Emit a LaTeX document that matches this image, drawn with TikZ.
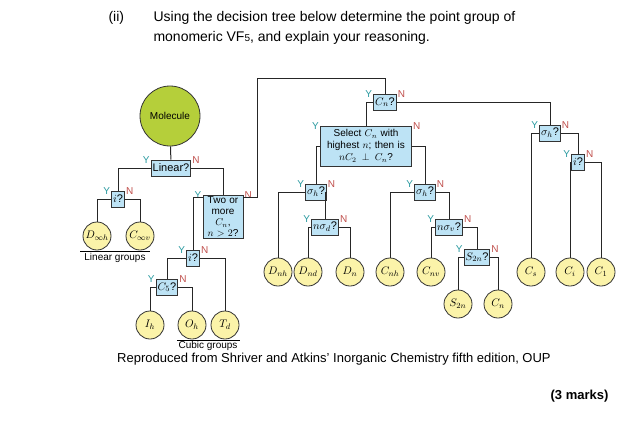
\documentclass[tikz,border=0pt]{standalone}
\usepackage{fontspec}
\setmainfont{Liberation Sans}
\usetikzlibrary{positioning}
\definecolor{qblue}{HTML}{BDE3F5}
\definecolor{leaf}{HTML}{FBF3A9}
\definecolor{molgreen}{HTML}{B5CF3A}
\definecolor{ycol}{HTML}{2A9AA0}
\definecolor{ncol}{HTML}{C0504D}
\tikzset{
  q/.style={draw=black!80,fill=qblue,line width=0.8pt,inner sep=1.5pt,minimum height=16pt,font=\fontsize{11}{12}\selectfont,
    label={[text=ycol,anchor=south east,inner sep=1pt,yshift=-5pt,font=\fontsize{10}{11}\selectfont]north west:Y},
    label={[text=ncol,anchor=south west,inner sep=1pt,yshift=-5pt,font=\fontsize{10}{11}\selectfont]north east:N}},
  pg/.style={circle,draw=black!80,fill=leaf,line width=0.8pt,minimum size=28pt,inner sep=0pt,font=\fontsize{11}{12}\selectfont},
  wire/.style={line width=1pt,black!85},
  grp/.style={font=\fontsize{10}{11}\selectfont}
}
\begin{document}
\begin{tikzpicture}[x=1pt,y=-1pt]
  \useasboundingbox (0,0) rectangle (642,442);
  %Question
  \node[anchor=west,font=\fontsize{14}{16}\selectfont] at (105,18) {(ii)};
  \node[anchor=west,font=\fontsize{14}{16}\selectfont] at (150,18) {Using the decision tree below determine the point group of};
  \node[anchor=west,font=\fontsize{14}{16}\selectfont] at (150,38) {monomeric VF{\fontsize{10}{12}\selectfont 5}, and explain your reasoning.};
  %Root
  \node[circle,draw=black!80,fill=molgreen,line width=0.8pt,minimum size=60pt,font=\fontsize{10}{11}\selectfont] (mol) at (170,116) {Molecule};
  \node[q] (lin) at (171,168) {Linear?};
  \node[q] (ilin) at (118,199) {$i$?};
  \node[pg] (dinfh) at (97,236) {$D_{\infty h}$};
  \node[pg] (cinfv) at (140,236) {$C_{\infty v}$};
  \node[q,align=center,text width=37pt,inner sep=1.5pt,font=\fontsize{10}{11}\selectfont] (two) at (223,217) {Two or\\more\\$C_n$,\\$n>2$?};
  \node[q] (icub) at (193,258) {$i$?};
  \node[q] (cfive) at (167,287) {$C_5$?};
  \node[pg] (ih) at (150,325) {$I_h$};
  \node[pg] (oh) at (192,325) {$O_h$};
  \node[pg] (td) at (225,325) {$T_d$};
  %Axial branch
  \node[q] (cn) at (385,102) {$C_n$?};
  \node[q,align=center,text width=88pt,minimum height=40pt,font=\fontsize{10}{12}\selectfont] (sel) at (366,146) {Select $C_n$ with\\highest $n$; then is\\$nC_2\perp C_n$?};
  \node[q] (sha) at (316,192) {$\sigma_h$?};
  \node[q] (nsd) at (325,227) {$n\sigma_d$?};
  \node[pg] (dnh) at (278,272) {$D_{nh}$};
  \node[pg] (dnd) at (308,272) {$D_{nd}$};
  \node[pg] (dn) at (350,272) {$D_n$};
  \node[q] (shb) at (425,192) {$\sigma_h$?};
  \node[q] (nsv) at (449,227) {$n\sigma_v$?};
  \node[q] (stwo) at (477,257) {$S_{2n}$?};
  \node[pg] (cnh) at (390,272) {$C_{nh}$};
  \node[pg] (cnv) at (431,272) {$C_{nv}$};
  \node[pg] (s2n) at (458,304) {$S_{2n}$};
  \node[pg] (cnn) at (498,304) {$C_n$};
  %Low symmetry
  \node[q] (shc) at (550,133) {$\sigma_h$?};
  \node[q] (ilow) at (578,162) {$i$?};
  \node[pg] (cs) at (531,272) {$C_s$};
  \node[pg] (ci) at (570,272) {$C_i$};
  \node[pg] (cone) at (601,272) {$C_1$};
  %Wires
  \draw[wire] (mol) -- (lin);
  \draw[wire] (lin.west) -| (ilin.north);
  \draw[wire] (lin.east) -| (two.north);
  \draw[wire] (ilin.west) -| (dinfh.north);
  \draw[wire] (ilin.east) -| (cinfv.north);
  \draw[wire] (two.west |- 0,197) -| (icub.north);
  \draw[wire] (two.east |- 0,197) -- (257,197) |- (cn.north |- 0,78) -- (cn.north);
  \draw[wire] (icub.west) -| (cfive.north);
  \draw[wire] (icub.east) -| (td.north);
  \draw[wire] (cfive.west) -| (ih.north);
  \draw[wire] (cfive.east) -| (oh.north);
  \draw[wire] (cn.west) -| (sel.north);
  \draw[wire] (cn.east) -| (shc.north);
  \draw[wire] (sel.west) -| (sha.north);
  \draw[wire] (sel.east) -| (shb.north);
  \draw[wire] (sha.west) -| (dnh.north);
  \draw[wire] (sha.east) -| (nsd.north);
  \draw[wire] (nsd.west) -| (dnd.north);
  \draw[wire] (nsd.east) -| (dn.north);
  \draw[wire] (shb.west) -| (cnh.north);
  \draw[wire] (shb.east) -| (nsv.north);
  \draw[wire] (nsv.west) -| (cnv.north);
  \draw[wire] (nsv.east) -| (stwo.north);
  \draw[wire] (stwo.west) -| (s2n.north);
  \draw[wire] (stwo.east) -| (cnn.north);
  \draw[wire] (shc.west) -| (cs.north);
  \draw[wire] (shc.east) -| (ilow.north);
  \draw[wire] (ilow.west) -| (ci.north);
  \draw[wire] (ilow.east) -| (cone.north);
  %Group captions
  \draw[line width=0.8pt] (80,251) -- (150,251);
  \node[grp] (lingrp) at (115,258) {Linear groups};
  \draw[line width=0.8pt] (177,340) -- (240,340);
  \node[grp,inner sep=1pt] (cubgrp) at (208,346) {Cubic groups};
  %Source
  \node[anchor=west,font=\fontsize{13}{15}\selectfont,inner sep=1pt] at (116,359) {Reproduced from Shriver and Atkins’ Inorganic Chemistry fifth edition, OUP};
  \node[anchor=east,font=\bfseries\fontsize{13}{15}\selectfont] at (612,396) {(3 marks)};
\end{tikzpicture}
\end{document}
